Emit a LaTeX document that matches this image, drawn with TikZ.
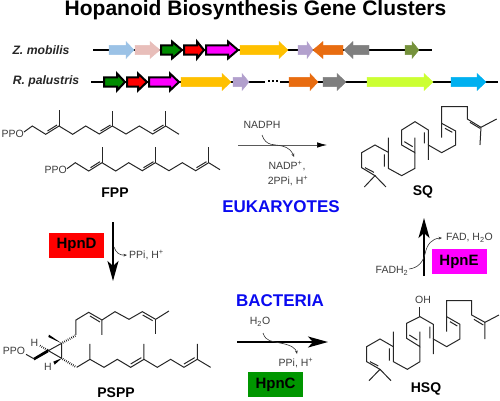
\documentclass[tikz,border=0pt]{standalone}
\usepackage{fontspec}
\setmainfont{Liberation Sans}
\usetikzlibrary{arrows.meta}
\newcommand{\gene}[6]{% x0, xhead, x1, y, fill, draw
  \path[fill=#5,draw=#6,gene line] (#1,#4-4.6) -- (#2,#4-4.6) -- (#2,#4-8.5) -- (#3,#4) -- (#2,#4+8.5) -- (#2,#4+4.6) -- (#1,#4+4.6) -- cycle;}
\definecolor{gblue}{RGB}{155,194,230}
\definecolor{gpink}{RGB}{232,190,186}
\definecolor{ggreen}{RGB}{0,140,0}
\definecolor{gred}{RGB}{255,0,0}
\definecolor{gmag}{RGB}{255,0,255}
\definecolor{gyellow}{RGB}{255,192,0}
\definecolor{gpurple}{RGB}{178,160,205}
\definecolor{gorange}{RGB}{232,108,16}
\definecolor{ggray}{RGB}{127,127,127}
\definecolor{golive}{RGB}{118,146,60}
\definecolor{glime}{RGB}{204,255,51}
\definecolor{gcyan}{RGB}{0,176,240}
\definecolor{ebox}{RGB}{0,150,0}
\definecolor{bluelabel}{RGB}{10,10,240}
\definecolor{txtgray}{RGB}{60,60,60}
\tikzset{
  gene line/.style={line width=0.4pt},
  blackgene/.style={line width=2pt,miter limit=3},
  bond/.style={line width=1pt,black!85,line join=miter},
  dbl/.style={line width=1pt,black!85},
  chem/.style={font=\fontsize{10.5}{12}\selectfont,text=txtgray,inner sep=0pt},
  cmpd/.style={font=\fontsize{14}{16}\selectfont\bfseries,inner sep=0pt},
  groupl/.style={font=\fontsize{17}{20}\selectfont\bfseries,text=bluelabel,inner sep=0pt},
  enz/.style={font=\fontsize{15}{17}\selectfont\bfseries,inner sep=0pt,minimum width=55pt,minimum height=25pt},
  orgl/.style={font=\fontsize{12.2}{14}\selectfont\bfseries\itshape,inner sep=0pt,text=black!85},
  curl/.style={line width=0.6pt,black!80,-{Stealth[length=3.5pt,width=2.8pt]}},
  bigarrow/.style={line width=2pt,-{Stealth[length=20pt,width=11pt,inset=5pt]}},
}
\begin{document}
\begin{tikzpicture}[x=1pt,y=-1pt]
\useasboundingbox (0,0) rectangle (500,400);
\node[font=\fontsize{21}{24}\selectfont\bfseries,inner sep=0pt] (title) at (255.5,10) {Hopanoid Biosynthesis Gene Clusters};
\node[orgl] (org1) at (41,50.5) {Z. mobilis};
\node[orgl] (org2) at (46,81.5) {R. palustris};
% gene tracks
\draw[line width=1.2pt] (93,50) -- (432,50);
\draw[line width=1.2pt] (91,82) -- (265,82) (280,82) -- (498,82);
\draw[line width=1.2pt,dash pattern=on 1.5pt off 2.5pt] (268,81) -- (279,81);
\gene{109}{126}{134}{50}{gblue}{gblue}
\gene{135}{150}{160}{50}{gpink}{gpink}
\gene{298}{307}{313}{50}{gpurple}{gpurple}
\gene{343}{323}{313}{50}{gorange}{gorange}
\gene{369}{353}{344}{50}{ggray}{ggray}
\gene{405}{412}{419}{50}{golive}{golive}
\gene{240}{279}{288}{50}{gyellow}{gyellow}
\begin{scope}[gene line/.style={blackgene}]
\gene{161}{172}{182}{50}{ggreen}{black}
\gene{184}{197}{204}{50}{gred}{black}
\gene{206}{228}{238}{50}{gmag}{black}
\gene{104}{117}{125}{82}{ggreen}{black}
\gene{127}{138}{147}{82}{gred}{black}
\gene{149}{170}{179}{82}{gmag}{black}
\end{scope}
\gene{181}{222}{231}{82}{gyellow}{gyellow}
\gene{233}{242}{249}{82}{gpurple}{gpurple}
\gene{289}{310}{318}{82}{gorange}{gorange}
\gene{323}{337}{346}{82}{ggray}{ggray}
\gene{367}{424}{433}{82}{glime}{glime}
\gene{451}{477}{486}{82}{gcyan}{gcyan}
% FPP 1
\node[chem,anchor=east] (ppo1) at (24,133.5) {PPO};
\draw[bond] (24,132) -- (32.3,126) -- (45.7,134.3) -- (59,126) -- (72.7,134.3) -- (85.7,126) -- (99.3,134) -- (112.3,126) -- (126,134) -- (139.3,126) -- (152.7,134) -- (165.7,126) -- (179,134.3);
\draw[bond] (59,126) -- (59,110) (112.3,126) -- (112.3,110.5) (165.7,126) -- (165.7,110.5);
\draw[dbl] (47.5,131) -- (57,125) (100.5,131) -- (110.5,125) (153.5,131) -- (163.5,125);
% FPP 2
\begin{scope}[shift={(43,36.7)}]
\node[chem,anchor=east] (ppo2) at (24,133.5) {PPO};
\draw[bond] (24,132) -- (32.3,126) -- (45.7,134.3) -- (59,126) -- (72.7,134.3) -- (85.7,126) -- (99.3,134) -- (112.3,126) -- (126,134) -- (139.3,126) -- (152.7,134) -- (165.7,126) -- (177,133);
\draw[bond] (59,126) -- (59,110) (112.3,126) -- (112.3,110.5) (165.7,126) -- (165.7,110.5);
\draw[dbl] (47.5,131) -- (57,125) (100.5,131) -- (110.5,125) (153.5,131) -- (163.5,125);
\end{scope}
\node[cmpd] (fpp) at (115,193) {FPP};
% top reaction
\node[chem] (nadph) at (262,125) {NADPH};
\node[chem] (nadp) at (287,166) {NADP\textsuperscript{+},};
\node[chem] (ppi1) at (288,181) {2PPi, H\textsuperscript{+}};
\coordinate (ta) at (238,145);
\coordinate (tb) at (327,145);
\draw[line width=0.7pt,black!65,-{Latex[length=10pt,width=5.5pt,black]}] (ta) -- (tb);
\draw[curl] (262,135) .. controls (266,147) and (275,144) .. (282,146) .. controls (290,148) and (292,152) .. (294,157);
\node[groupl] (euk) at (281,207) {EUKARYOTES};
% SQ
\begin{scope}[shift={(220,95)},x=0.3333pt,y=-0.3333pt]
\draw[bond] (780,150) -- (783,97) -- (830,72);
\draw[bond] (783,97) -- (742,72) -- (742,35) -- (665,35) -- (665,128);
\draw[bond] (665,85) -- (707,108) -- (707,150) -- (665,173) -- (625,150) -- (625,195);
\draw[bond] (625,150) -- (625,105) -- (585,80) -- (545,105) -- (545,150) -- (585,173) -- (585,128);
\draw[bond] (585,173) -- (585,220) -- (545,242) -- (505,220) -- (505,128);
\draw[bond] (505,172) -- (465,150) -- (425,173) -- (425,218) -- (465,242) -- (433,276);
\draw[bond] (465,242) -- (498,276);
\draw[dbl] (750,82) -- (780,100) (675,100) -- (697,112) (613,112) -- (613,145) (553,140) -- (578,155) (493,178) -- (493,215) (435,218) -- (462,232);
\end{scope}
\node[cmpd] (sq) at (423,192) {SQ};
% HpnD
\node[enz,fill=gred] (hpnd) at (76.5,245) {HpnD};
\coordinate (da) at (113,222);
\coordinate (db) at (113,281);
\draw[bigarrow] (da) -- (db);
\node[chem,anchor=west] (ppid) at (129,255.5) {PPi, H\textsuperscript{+}};
\draw[curl] (114,247) .. controls (116,253) and (120,255.5) .. (127,255);
% PSPP
\begin{scope}[shift={(0,195)},x=0.3333pt,y=-0.3333pt]
\draw[bond] (228,420) -- (228,375) -- (266,352) -- (306,375) -- (306,420);
\draw[bond] (306,375) -- (345,350) -- (387,373) -- (427,350) -- (467,373) -- (507,348);
\draw[bond] (467,373) -- (467,417);
\draw[dbl] (270,363) -- (300,381) (428,360) -- (458,377);
\draw[bond] (145,467) -- (185,445) -- (185,490) -- cycle;
\fill[black] (185,445) -- (147,419) -- (145,426) -- cycle;
\fill[black] (145,462) -- (145,472) -- (103,496) -- (100,489) -- cycle;
\draw[bond] (78,478) -- (103,492);
\fill[black] (185,490) -- (160,500) -- (164,509) -- cycle;
\draw[black,line width=2.2pt,dash pattern=on 0.6pt off 1.4pt] (188,443) -- (226,422);
\draw[black,line width=2.2pt,dash pattern=on 0.6pt off 1.4pt] (188,492) -- (228,516);
\draw[black,line width=2pt,dash pattern=on 0.6pt off 1.4pt] (142,465) -- (120,452);
\draw[bond] (230,517) -- (270,493) -- (270,447);
\draw[bond] (270,493) -- (312,517) -- (352,493) -- (392,517) -- (432,493) -- (432,447);
\draw[bond] (432,493) -- (472,517) -- (512,493) -- (552,517) -- (592,493) -- (592,447);
\draw[bond] (592,493) -- (632,517);
\draw[dbl] (392,507) -- (424,488) (552,507) -- (584,488);
\end{scope}
\node[chem] (ppo3) at (14,351) {PPO};
\node[chem] (h1) at (34.5,343) {H};
\node[chem] (h2) at (48,367) {H};
\node[cmpd] (pspp) at (116,393) {PSPP};
% bottom reaction
\node[groupl] (bac) at (280,301) {BACTERIA};
\node[chem] (h2o) at (260,322) {H\textsubscript{2}O};
\coordinate (ba) at (237,342);
\coordinate (bb) at (328,342);
\draw[bigarrow] (ba) -- (bb);
\draw[curl] (263,333) .. controls (266,342) and (272,341) .. (280,343) .. controls (292,345) and (296,349) .. (297,354);
\node[chem] (ppib) at (296,363) {PPi, H\textsuperscript{+}};
\node[enz,fill=ebox] (hpnc) at (275.5,384.5) {HpnC};
% HSQ
\begin{scope}[shift={(200,270)},x=0.3333pt,y=-0.3333pt]
\draw[bond] (855,207) -- (855,157) -- (897,135);
\draw[bond] (855,157) -- (815,135) -- (815,92) -- (740,92) -- (740,185);
\draw[bond] (740,140) -- (780,163) -- (780,207) -- (740,230) -- (700,207) -- (700,252);
\draw[bond] (700,207) -- (700,163) -- (660,140) -- (620,160) -- (620,205) -- (660,230) -- (660,185);
\draw[bond] (660,140) -- (660,110);
\draw[bond] (660,230) -- (660,275) -- (622,298) -- (580,275) -- (580,185);
\draw[bond] (580,230) -- (540,207) -- (500,230) -- (500,275) -- (540,298) -- (507,332);
\draw[bond] (540,298) -- (573,332);
\draw[dbl] (822,148) -- (850,165) (750,155) -- (772,168) (690,170) -- (690,205) (628,195) -- (652,210) (568,235) -- (568,272) (510,275) -- (535,288);
\end{scope}
\node[chem] (oh) at (423,300) {OH};
\node[cmpd] (hsq) at (426,389) {HSQ};
% HpnE
\node[enz,fill=gmag] (hpne) at (459,261.5) {HpnE};
\coordinate (ea) at (424,276);
\coordinate (eb) at (424,218);
\draw[bigarrow] (ea) -- (eb);
\node[chem] (fadh) at (392,271) {FADH\textsubscript{2}};
\node[chem] (fad) at (469.5,238) {FAD, H\textsubscript{2}O};
\draw[curl] (409,269) .. controls (418,268) and (423,262) .. (425,254) .. controls (427,244) and (432,238.5) .. (442,238);
\end{tikzpicture}
\end{document}
